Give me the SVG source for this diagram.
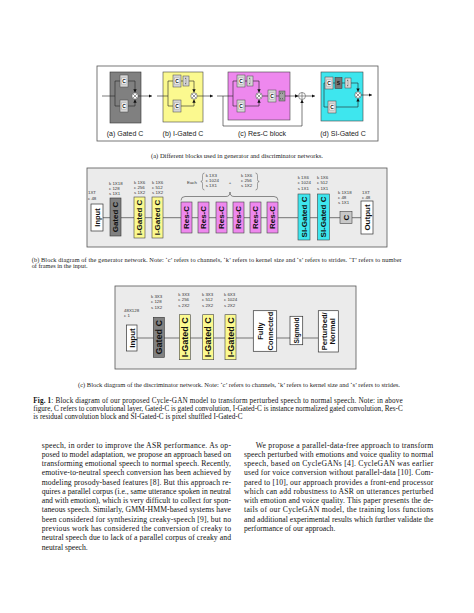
<svg xmlns="http://www.w3.org/2000/svg" width="474" height="613" viewBox="0 0 474 613">
<defs>
<marker id="ah" viewBox="0 0 6 6" refX="6" refY="3" markerWidth="3.4" markerHeight="3.4" markerUnits="userSpaceOnUse" orient="auto"><path d="M0,0L6,3L0,6z" fill="#111"/></marker>
<g id="cbox"><rect x="0" y="0" width="8" height="12" fill="#d6d6d6" stroke="#444" stroke-width="0.5"/><rect x="1.2" y="3" width="5.6" height="6" fill="#fff" stroke="#666" stroke-width="0.3"/><text x="4" y="8.1" class="cb">C</text></g>
<g id="ibox"><rect x="0" y="0" width="6" height="10" fill="#d6d6d6" stroke="#444" stroke-width="0.5"/><rect x="2.2" y="2" width="1.6" height="6" fill="#fff" stroke="#444" stroke-width="0.3"/></g>
<g id="iibox"><rect x="0" y="0" width="6" height="10" fill="#9a9a9a" stroke="#444" stroke-width="0.5"/><rect x="1.4" y="2" width="1.2" height="6" fill="#eee" stroke="#444" stroke-width="0.3"/><rect x="3.4" y="2" width="1.2" height="6" fill="#eee" stroke="#444" stroke-width="0.3"/></g>
<g id="mul"><circle r="3.2" fill="#fff" stroke="#333" stroke-width="0.5"/><path d="M-2.2,-2.2L2.2,2.2M-2.2,2.2L2.2,-2.2" stroke="#333" stroke-width="0.5"/></g>
<g id="add"><circle r="3.5" fill="#fff" stroke="#333" stroke-width="0.5"/><path d="M-3.5,0H3.5M0,-3.5V3.5" stroke="#333" stroke-width="0.5"/></g>
</defs>
<style>
.panel{fill:#fff;stroke:#555;stroke-width:0.8}
.gpanel{fill:#ebebeb;stroke:#555;stroke-width:0.8}
.w{fill:none;stroke:#222;stroke-width:0.6}
.wa{fill:none;stroke:#222;stroke-width:0.6;marker-end:url(#ah)}
.cb{font-family:"Liberation Sans",Arial,sans-serif;font-weight:bold;font-size:5px;text-anchor:middle;fill:#111}
.lbl{font-family:"Liberation Sans",Arial,sans-serif;font-size:7px;text-anchor:middle;fill:#222}
.sm{font-family:"Liberation Sans",Arial,sans-serif;font-size:4.4px;fill:#333}
.bt{font-family:"Liberation Sans",Arial,sans-serif;font-weight:bold;font-size:8px;text-anchor:middle;fill:#111}
.gray{fill:#808080;stroke:#333;stroke-width:0.6}
.yel{fill:#fbf98f;stroke:#444;stroke-width:0.6}
.mag{fill:#ee88ee;stroke:#444;stroke-width:0.6}
.cyn{fill:#3ee6ee;stroke:#444;stroke-width:0.6}
.wht{fill:#fff;stroke:#333;stroke-width:0.7}
.lg{fill:#c8c8c8;stroke:#444;stroke-width:0.6}
.cap{font-family:"Liberation Serif","Times New Roman",serif;font-size:6.5px;fill:#222}
.fc{font-family:"Liberation Serif","Times New Roman",serif;font-size:7.2px;fill:#111}
.body{font-family:"Liberation Serif","Times New Roman",serif;font-size:7.7px;fill:#111}
</style>
<rect width="474" height="613" fill="#fff"/>

<!-- ===== Panel (a) ===== -->
<rect class="panel" x="97" y="66" width="281" height="75"/>
<g id="a-gated">
<rect class="gray" x="110" y="72" width="31" height="51"/>
<path class="w" d="M115,81V106M115,81H120M115,106H120"/>
<path class="wa" d="M128,81H135V92.6"/>
<path class="wa" d="M128,106H135V99.4"/>
<use href="#cbox" x="120" y="75"/>
<use href="#cbox" x="120" y="100"/>
<use href="#mul" x="135" y="96"/>
<text class="lbl" x="125" y="135.5">(a) Gated C</text>
</g>
<g id="a-igated">
<rect class="yel" x="163" y="72" width="40" height="50"/>
<path class="w" d="M168,81V106M168,81H173M168,106H173M181,81H183"/>
<path class="wa" d="M189,81H194V92.6"/>
<path class="wa" d="M181,106H194V99.4"/>
<use href="#cbox" x="173" y="75"/>
<use href="#ibox" x="183" y="76"/>
<use href="#cbox" x="173" y="100"/>
<use href="#mul" x="194" y="96"/>
<text class="lbl" x="183" y="135.5">(b) I-Gated C</text>
</g>
<g id="a-resc">
<rect class="mag" x="228" y="72" width="62" height="48"/>
<path class="w" d="M233,81V106M233,81H237M233,106H237M245,81H247M262.2,96H268M276,96H279"/>
<path class="wa" d="M253,81H259V92.6"/>
<path class="wa" d="M245,106H259V99.4"/>
<use href="#cbox" x="237" y="75"/>
<use href="#ibox" x="247" y="76"/>
<use href="#cbox" x="237" y="100"/>
<use href="#mul" x="259" y="96"/>
<use href="#cbox" x="268" y="90"/>
<use href="#iibox" x="279" y="91"/>
<text class="lbl" x="262" y="135.5">(c) Res-C block</text>
</g>
<g id="a-sigated">
<rect class="cyn" x="321" y="72" width="42" height="49"/>
<path class="w" d="M324,83V107M324,83H325M324,107H328M333,83H335M342,83H345"/>
<path class="wa" d="M351,83H358V91.8"/>
<path class="wa" d="M336,107H358V98.2"/>
<use href="#cbox" x="325" y="77"/>
<g><rect x="335" y="77.5" width="7" height="11" fill="#777" stroke="#333" stroke-width="0.5"/><text class="cb" x="338.5" y="85" style="fill:#111">S</text></g>
<use href="#ibox" x="345" y="78"/>
<use href="#cbox" x="328" y="101"/>
<use href="#mul" x="358" y="95"/>
<text class="lbl" x="343" y="135.5">(d) SI-Gated C</text>
</g>
<g id="a-connectors">
<path class="w" d="M102,96H115"/>
<path class="wa" d="M138.2,96H152"/>
<path class="w" d="M157,96H168"/>
<path class="wa" d="M197.2,96H213"/>
<path class="w" d="M217,96H233"/>
<path class="wa" d="M223,96V126H302V99.6"/>
<path class="wa" d="M285,96H298.4"/>
<path class="wa" d="M305.5,96H315"/>
<path class="wa" d="M361.2,95H372"/>
</g>
<g id="a-add"><use href="#add" x="302" y="96"/></g>
<text class="cap" x="237" y="158" text-anchor="middle">(a) Different blocks used in generator and discriminator networks.</text>

<!-- ===== Panel (b) generator ===== -->
<rect class="gpanel" x="87" y="168" width="300" height="79"/>
<g id="gen-connectors"><path class="w" d="M103,217.7H361"/></g>
<g id="g-input"><rect class="wht" x="91" y="204" width="12" height="27"/><text class="bt" transform="translate(97.3,217.5) rotate(-90)" dy="2.8" style="font-size:7.5px">Input</text>
<text class="sm" x="88" y="194">1XT</text><text class="sm" x="88" y="200.3">c 48</text></g>
<g id="g-gated"><rect class="gray" x="110" y="198" width="11" height="38"/><text class="bt" transform="translate(115.5,217) rotate(-90)" dy="2.9">Gated C</text>
<text class="sm" x="109" y="185">k 1X18</text><text class="sm" x="109" y="190">c 128</text><text class="sm" x="109" y="195">s 1X1</text></g>
<g id="g-igated1"><rect class="yel" x="134" y="197" width="11" height="41"/><text class="bt" transform="translate(139.5,217.5) rotate(-90)" dy="2.9">I-Gated C</text>
<text class="sm" x="134" y="183.5">k 1X6</text><text class="sm" x="134" y="188.5">c 256</text><text class="sm" x="134" y="194">s 1X2</text></g>
<g id="g-igated2"><rect class="yel" x="152" y="197" width="11" height="41"/><text class="bt" transform="translate(157.5,217.5) rotate(-90)" dy="2.9">I-Gated C</text>
<text class="sm" x="152" y="183.5">k 1X6</text><text class="sm" x="152" y="188.5">c 512</text><text class="sm" x="152" y="194">s 1X2</text></g>
<g id="g-res1"><rect class="mag" x="181" y="202" width="11" height="31"/><text class="bt" transform="translate(186.5,217.5) rotate(-90)" dy="2.9">Res-C</text></g>
<g id="g-res2"><rect class="mag" x="198" y="202" width="11" height="31"/><text class="bt" transform="translate(203.5,217.5) rotate(-90)" dy="2.9">Res-C</text></g>
<g id="g-res3"><rect class="mag" x="216" y="202" width="11" height="31"/><text class="bt" transform="translate(221.5,217.5) rotate(-90)" dy="2.9">Res-C</text></g>
<g id="g-res4"><rect class="mag" x="233" y="202" width="11" height="31"/><text class="bt" transform="translate(238.5,217.5) rotate(-90)" dy="2.9">Res-C</text></g>
<g id="g-res5"><rect class="mag" x="250" y="202" width="11" height="31"/><text class="bt" transform="translate(255.5,217.5) rotate(-90)" dy="2.9">Res-C</text></g>
<g id="g-res6"><rect class="mag" x="267" y="202" width="11" height="31"/><text class="bt" transform="translate(272.5,217.5) rotate(-90)" dy="2.9">Res-C</text></g>
<g id="g-res-note">
<path class="w" d="M181,200.5Q181,196.5 185,196.5L226,196.5Q230,196.5 230,192Q230,196.5 234,196.5L274,196.5Q278,196.5 278,200.5" style="stroke:#444"/>
<text class="sm" x="187" y="184.3">Each</text>
<path class="w" d="M204.5,173Q202.5,173 202.5,175.5V179.5Q202.5,181.5 200.8,181.5Q202.5,181.5 202.5,183.5V187.5Q202.5,190 204.5,190" style="stroke:#444;stroke-width:0.45"/>
<text class="sm" x="205.7" y="177.3">k 1X3</text><text class="sm" x="205.7" y="182.3">c 1024</text><text class="sm" x="205.7" y="187.3">s 1X1</text>
<text class="sm" x="228.8" y="184">+</text>
<text class="sm" x="241" y="177.3">k 1X6</text><text class="sm" x="241" y="182.3">c 256</text><text class="sm" x="241" y="187.3">s 1X2</text>
<path class="w" d="M255.5,173Q257.5,173 257.5,175.5V179.5Q257.5,181.5 259.2,181.5Q257.5,181.5 257.5,183.5V187.5Q257.5,190 255.5,190" style="stroke:#444;stroke-width:0.45"/>
</g>
<g id="g-sigated1"><rect class="cyn" x="298" y="194" width="12" height="46"/><text class="bt" transform="translate(304,217) rotate(-90)" dy="2.9">SI-Gated C</text>
<text class="sm" x="297.7" y="178.5">k 1X6</text><text class="sm" x="297.7" y="184">c 1024</text><text class="sm" x="297.7" y="189.7">s 1X1</text></g>
<g id="g-sigated2"><rect class="cyn" x="317.5" y="194" width="12" height="46"/><text class="bt" transform="translate(323.5,217) rotate(-90)" dy="2.9">SI-Gated C</text>
<text class="sm" x="317" y="178.5">k 1X6</text><text class="sm" x="317" y="184">c 512</text><text class="sm" x="317" y="189.7">s 1X1</text></g>
<g id="g-c"><rect class="lg" x="340" y="211.5" width="12" height="12"/><text class="bt" transform="translate(346,217.5) rotate(-90)" dy="2.9">C</text>
<text class="sm" x="338" y="194.2">k 1X18</text><text class="sm" x="338" y="199">c 48</text><text class="sm" x="338" y="204">s 1X1</text></g>
<g id="g-output"><rect class="wht" x="361" y="201" width="12" height="33"/><text class="bt" transform="translate(367,217.5) rotate(-90)" dy="2.9">Output</text>
<text class="sm" x="362" y="194.2">1XT</text><text class="sm" x="362" y="199">c 48</text></g>
<text class="cap" x="31.7" y="261.5" textLength="370" lengthAdjust="spacing" style="font-size:6.3px">(b) Block diagram of the generator network. Note: ‘c’ refers to channels, ‘k’ refers to kernel size and ‘s’ refers to strides. ‘T’ refers to number</text>
<text class="cap" x="31.7" y="268.4" style="font-size:6.3px">of frames in the input.</text>

<!-- ===== Panel (c) discriminator ===== -->
<rect class="gpanel" x="115" y="286" width="241" height="83"/>
<g id="disc-connectors"><path class="w" d="M137,338H318.3"/></g>
<g id="d-input"><rect class="wht" x="126.5" y="325" width="10.5" height="26"/><text class="bt" transform="translate(131.9,338) rotate(-90)" dy="2.8">Input</text>
<text class="sm" x="124" y="312.2">48X128</text><text class="sm" x="124" y="317.3">c 1</text></g>
<g id="d-gated"><rect class="gray" x="153.3" y="317.3" width="11" height="40"/><text class="bt" transform="translate(158.8,337.3) rotate(-90)" dy="3.1" style="font-size:9px">Gated C</text>
<text class="sm" x="151" y="297.8">k 3X3</text><text class="sm" x="151" y="303.3">c 128</text><text class="sm" x="151" y="308.8">s 1X2</text></g>
<g id="d-igated1"><rect class="yel" x="179.3" y="314.7" width="11" height="45"/><text class="bt" transform="translate(184.8,337.2) rotate(-90)" dy="3.1" style="font-size:9px">I-Gated C</text>
<text class="sm" x="178.3" y="296.2">k 3X3</text><text class="sm" x="178.3" y="301.4">c 256</text><text class="sm" x="178.3" y="306.8">s 2X2</text></g>
<g id="d-igated2"><rect class="yel" x="202.7" y="314.7" width="11" height="45"/><text class="bt" transform="translate(208.2,337.2) rotate(-90)" dy="3.1" style="font-size:9px">I-Gated C</text>
<text class="sm" x="202" y="296.2">k 3X3</text><text class="sm" x="202" y="301.4">c 512</text><text class="sm" x="202" y="306.8">s 2X2</text></g>
<g id="d-igated3"><rect class="yel" x="225" y="314.7" width="11" height="45"/><text class="bt" transform="translate(230.5,337.2) rotate(-90)" dy="3.1" style="font-size:9px">I-Gated C</text>
<text class="sm" x="224" y="296.2">k 6X3</text><text class="sm" x="224" y="301.4">c 1024</text><text class="sm" x="224" y="306.8">s 2X2</text></g>
<g id="d-fc"><rect class="wht" x="253.3" y="310.7" width="23.4" height="40.6"/>
<text class="bt" transform="translate(265,331) rotate(-90)" style="font-size:7.5px"><tspan x="0" y="-2">Fully</tspan><tspan x="0" y="7.5">Connected</tspan></text></g>
<g id="d-sigmoid"><rect class="wht" x="290" y="316.3" width="12.7" height="28.4"/><text class="bt" transform="translate(296.4,330.5) rotate(-90)" dy="2.4" style="font-size:6.6px">Sigmoid</text></g>
<g id="d-out"><rect class="wht" x="318.3" y="310.7" width="20" height="41.3"/>
<text class="bt" transform="translate(328.3,331.3) rotate(-90)" style="font-size:7.6px"><tspan x="0" y="-1.5">Perturbed/</tspan><tspan x="0" y="6.8">Normal</tspan></text></g>
<text class="cap" x="239" y="386.5" text-anchor="middle">(c) Block diagram of the discriminator network. Note: ‘c’ refers to channels, ‘k’ refers to kernel size and ‘s’ refers to strides.</text>

<!-- ===== Figure caption ===== -->
<text class="fc" x="33.3" y="403.3" textLength="369.4" lengthAdjust="spacing"><tspan font-weight="bold">Fig. 1</tspan>: Block diagram of our proposed Cycle-GAN model to transform perturbed speech to normal speech. Note: in above</text>
<text class="fc" x="33.3" y="411.4" textLength="369.4" lengthAdjust="spacing">figure, C refers to convolutional layer, Gated-C is gated convolution, I-Gated-C is instance normalized gated convolution, Res-C</text>
<text class="fc" x="33.3" y="419.2">is residual convolution block and SI-Gated-C is pixel shuffled I-Gated-C</text>

<!-- ===== Body text ===== -->
<g class="body">
<text x="41.7" y="447.5" textLength="189.3" lengthAdjust="spacing">speech, in order to improve the ASR performance. As op-</text>
<text x="41.7" y="456.8" textLength="189.3" lengthAdjust="spacing">posed to model adaptation, we propose an approach based on</text>
<text x="41.7" y="466.0" textLength="189.3" lengthAdjust="spacing">transforming emotional speech to normal speech. Recently,</text>
<text x="41.7" y="475.3" textLength="189.3" lengthAdjust="spacing">emotive-to-neutral speech conversion has been achieved by</text>
<text x="41.7" y="484.6" textLength="189.3" lengthAdjust="spacing">modeling prosody-based features [8]. But this approach re-</text>
<text x="41.7" y="493.9" textLength="189.3" lengthAdjust="spacing">quires a parallel corpus (i.e., same utterance spoken in neutral</text>
<text x="41.7" y="503.1" textLength="189.3" lengthAdjust="spacing">and with emotion), which is very difficult to collect for spon-</text>
<text x="41.7" y="512.4" textLength="189.3" lengthAdjust="spacing">taneous speech. Similarly, GMM-HMM-based systems have</text>
<text x="41.7" y="521.7" textLength="189.3" lengthAdjust="spacing">been considered for synthesizing creaky-speech [9], but no</text>
<text x="41.7" y="530.9" textLength="189.3" lengthAdjust="spacing">previous work has considered the conversion of creaky to</text>
<text x="41.7" y="540.2" textLength="189.3" lengthAdjust="spacing">neutral speech due to lack of a parallel corpus of creaky and</text>
<text x="41.7" y="549.5">neutral speech.</text>
<text x="255.7" y="447.5" textLength="177.6" lengthAdjust="spacing">We propose a parallel-data-free approach to transform</text>
<text x="244" y="456.8" textLength="189.3" lengthAdjust="spacing">speech perturbed with emotions and voice quality to normal</text>
<text x="244" y="466.0" textLength="189.3" lengthAdjust="spacing">speech, based on CycleGANs [4]. CycleGAN was earlier</text>
<text x="244" y="475.3" textLength="189.3" lengthAdjust="spacing">used for voice conversion without parallel-data [10]. Com-</text>
<text x="244" y="484.6" textLength="189.3" lengthAdjust="spacing">pared to [10], our approach provides a front-end processor</text>
<text x="244" y="493.9" textLength="189.3" lengthAdjust="spacing">which can add robustness to ASR on utterances perturbed</text>
<text x="244" y="503.1" textLength="189.3" lengthAdjust="spacing">with emotion and voice quality. This paper presents the de-</text>
<text x="244" y="512.4" textLength="189.3" lengthAdjust="spacing">tails of our CycleGAN model, the training loss functions</text>
<text x="244" y="521.7" textLength="189.3" lengthAdjust="spacing">and additional experimental results which further validate the</text>
<text x="244" y="530.9">performance of our approach.</text>
</g>
</svg>
